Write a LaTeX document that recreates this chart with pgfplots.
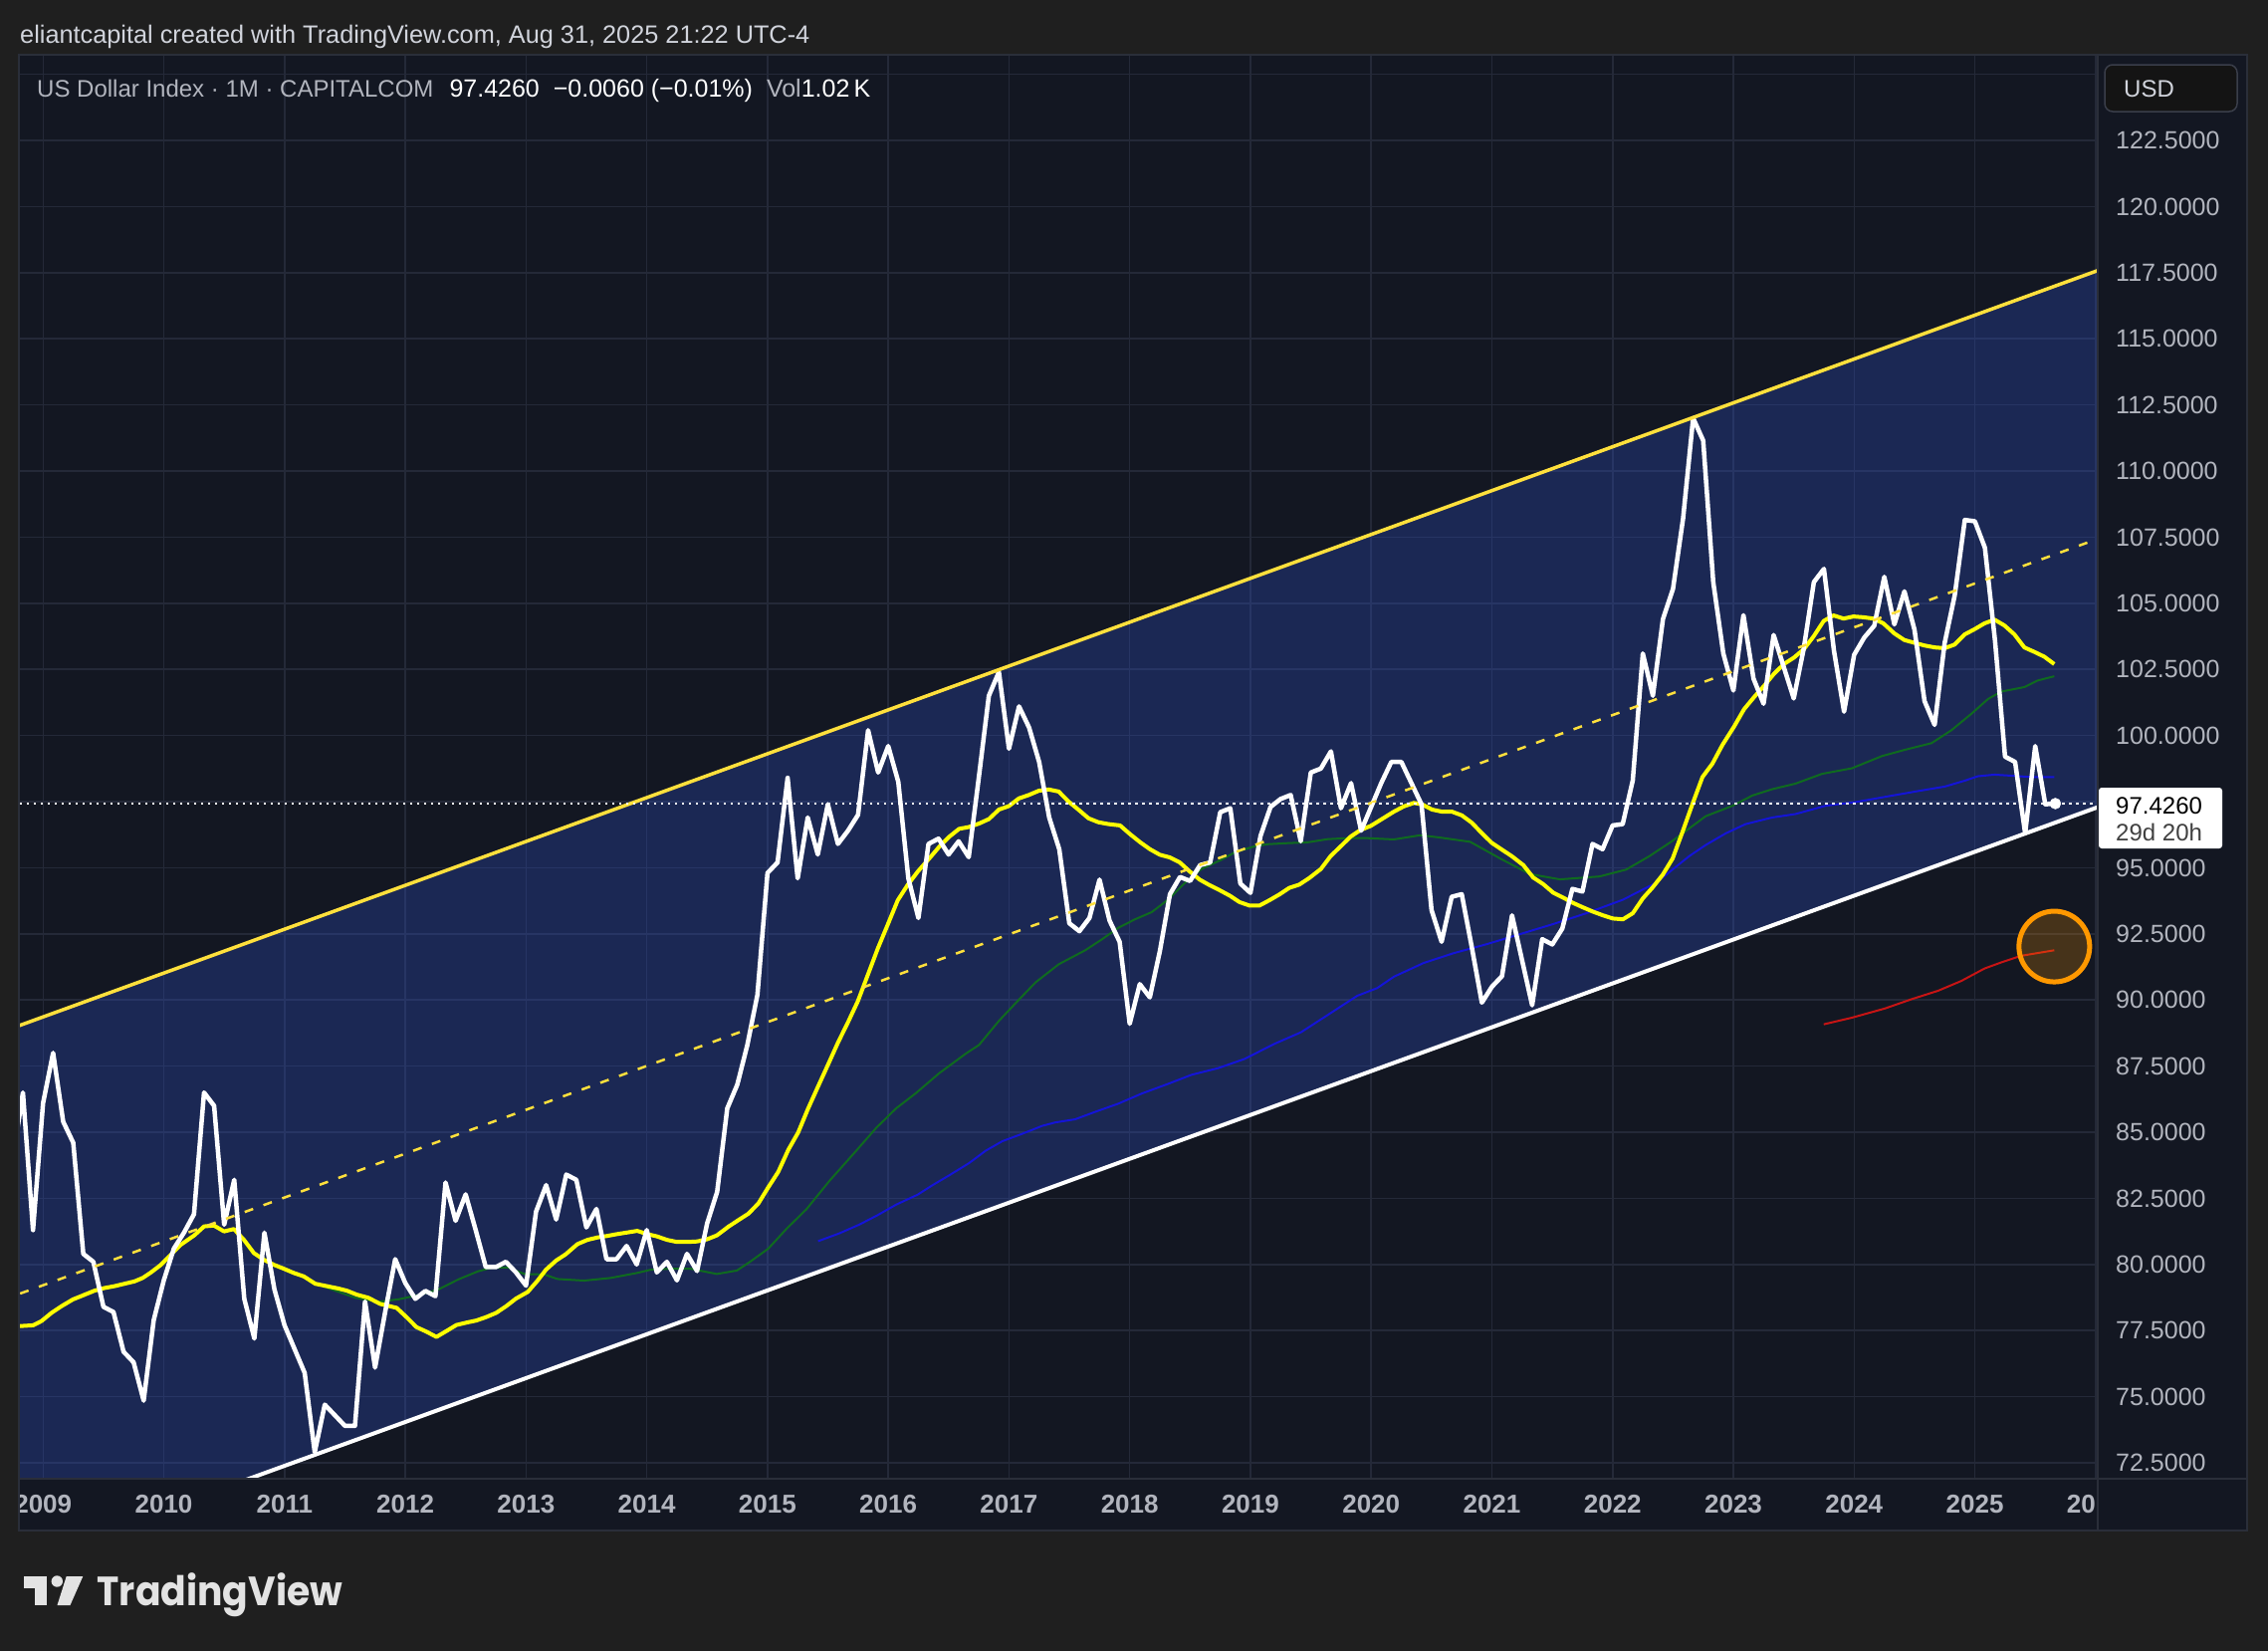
\documentclass[border=0pt]{standalone}
\usepackage{fontspec}
\setmainfont{Liberation Sans}
\newfontfamily\tvfont{Poppins}
\usepackage{pgfplots}
\pgfplotsset{compat=1.18}
\usepackage{pgfplotstable}

\definecolor{outerbg}{HTML}{1F1F1F}
\definecolor{panelbg}{HTML}{131722}
\definecolor{sepc}{HTML}{2A2E39}
\definecolor{boxbd}{HTML}{3A3E4A}
\definecolor{gridc}{HTML}{242938}
\definecolor{tickc}{HTML}{B2B5BE}
\definecolor{hdr}{HTML}{D1D4DC}
\definecolor{chanfill}{RGB}{51,91,234}
\definecolor{chanyel}{HTML}{FFE03C}
\definecolor{mayel}{HTML}{FFFF00}
\definecolor{magreen}{HTML}{0F6B1F}
\definecolor{mablue}{HTML}{1414D8}
\definecolor{mared}{HTML}{C81414}
\definecolor{circor}{HTML}{FF9800}
\definecolor{logoc}{HTML}{E3E3E3}

\pgfplotstableread{
t v
2008.7500 84.0
2008.8333 86.5
2008.9167 81.3
2009.0000 86.1
2009.0833 88.0
2009.1667 85.4
2009.2500 84.6
2009.3333 80.4
2009.4167 80.1
2009.5000 78.4
2009.5833 78.2
2009.6667 76.7
2009.7500 76.3
2009.8333 74.85
2009.9167 77.9
2010.0000 79.4
2010.0833 80.6
2010.1667 81.2
2010.2500 81.9
2010.3333 86.5
2010.4167 86.0
2010.5000 81.5
2010.5833 83.2
2010.6667 78.7
2010.7500 77.2
2010.8333 81.2
2010.9167 79.05
2011.0000 77.7
2011.0833 76.8
2011.1667 75.9
2011.2500 72.9
2011.3333 74.7
2011.4167 74.3
2011.5000 73.9
2011.5833 73.9
2011.6667 78.6
2011.7500 76.1
2011.8333 78.2
2011.9167 80.2
2012.0000 79.3
2012.0833 78.7
2012.1667 79.0
2012.2500 78.8
2012.3333 83.1
2012.4167 81.65
2012.5000 82.65
2012.5833 81.3
2012.6667 79.9
2012.7500 79.9
2012.8333 80.1
2012.9167 79.7
2013.0000 79.2
2013.0833 82.0
2013.1667 83.0
2013.2500 81.7
2013.3333 83.4
2013.4167 83.2
2013.5000 81.4
2013.5833 82.1
2013.6667 80.2
2013.7500 80.2
2013.8333 80.7
2013.9167 80.0
2014.0000 81.3
2014.0833 79.7
2014.1667 80.1
2014.2500 79.4
2014.3333 80.4
2014.4167 79.75
2014.5000 81.55
2014.5833 82.75
2014.6667 85.9
2014.7500 86.8
2014.8333 88.3
2014.9167 90.2
2015.0000 94.8
2015.0833 95.2
2015.1667 98.4
2015.2500 94.6
2015.3333 96.9
2015.4167 95.5
2015.5000 97.4
2015.5833 95.9
2015.6667 96.4
2015.7500 97.0
2015.8333 100.2
2015.9167 98.6
2016.0000 99.6
2016.0833 98.25
2016.1667 94.6
2016.2500 93.1
2016.3333 95.9
2016.4167 96.1
2016.5000 95.5
2016.5833 96.0
2016.6667 95.4
2016.7500 98.4
2016.8333 101.5
2016.9167 102.4
2017.0000 99.5
2017.0833 101.1
2017.1667 100.3
2017.2500 99.0
2017.3333 96.9
2017.4167 95.7
2017.5000 92.9
2017.5833 92.6
2017.6667 93.1
2017.7500 94.55
2017.8333 93.0
2017.9167 92.2
2018.0000 89.1
2018.0833 90.6
2018.1667 90.1
2018.2500 91.85
2018.3333 94.0
2018.4167 94.65
2018.5000 94.5
2018.5833 95.1
2018.6667 95.2
2018.7500 97.1
2018.8333 97.25
2018.9167 94.4
2019.0000 94.05
2019.0833 96.2
2019.1667 97.3
2019.2500 97.6
2019.3333 97.75
2019.4167 96.0
2019.5000 98.6
2019.5833 98.75
2019.6667 99.4
2019.7500 97.25
2019.8333 98.2
2019.9167 96.4
2020.0000 97.3
2020.0833 98.2
2020.1667 99.0
2020.2500 99.0
2020.3333 98.2
2020.4167 97.4
2020.5000 93.4
2020.5833 92.2
2020.6667 93.9
2020.7500 94.0
2020.8333 92.0
2020.9167 89.9
2021.0000 90.5
2021.0833 90.9
2021.1667 93.2
2021.2500 91.5
2021.3333 89.8
2021.4167 92.3
2021.5000 92.1
2021.5833 92.7
2021.6667 94.2
2021.7500 94.1
2021.8333 95.9
2021.9167 95.7
2022.0000 96.6
2022.0833 96.65
2022.1667 98.3
2022.2500 103.1
2022.3333 101.5
2022.4167 104.4
2022.5000 105.55
2022.5833 108.2
2022.6667 112.0
2022.7500 111.15
2022.8333 105.8
2022.9167 103.1
2023.0000 101.7
2023.0833 104.55
2023.1667 102.15
2023.2500 101.2
2023.3333 103.8
2023.4167 102.6
2023.5000 101.4
2023.5833 103.3
2023.6667 105.8
2023.7500 106.3
2023.8333 103.2
2023.9167 100.9
2024.0000 103.05
2024.0833 103.7
2024.1667 104.15
2024.2500 106.0
2024.3333 104.2
2024.4167 105.45
2024.5000 104.0
2024.5833 101.3
2024.6667 100.4
2024.7500 103.5
2024.8333 105.3
2024.9167 108.15
2025.0000 108.1
2025.0833 107.1
2025.1667 103.6
2025.2500 99.2
2025.3333 99.0
2025.4167 96.3
2025.5000 99.6
2025.5833 97.4
2025.6667 97.426
}\dxy

\pgfplotstableread{
t v
2008.808 77.67
2008.918 77.70
2008.987 77.86
2009.070 78.17
2009.152 78.42
2009.248 78.68
2009.330 78.83
2009.427 79.01
2009.509 79.11
2009.592 79.18
2009.674 79.27
2009.757 79.36
2009.825 79.49
2009.894 79.70
2009.977 79.99
2010.059 80.37
2010.142 80.75
2010.252 81.10
2010.334 81.44
2010.416 81.47
2010.499 81.25
2010.581 81.34
2010.664 80.93
2010.746 80.43
2010.829 80.18
2010.911 79.99
2010.994 79.84
2011.076 79.68
2011.159 79.55
2011.255 79.27
2011.351 79.18
2011.447 79.09
2011.516 79.01
2011.598 78.86
2011.695 78.74
2011.791 78.51
2011.928 78.36
2012.010 78.01
2012.093 77.63
2012.175 77.46
2012.258 77.26
2012.340 77.48
2012.423 77.71
2012.505 77.80
2012.588 77.88
2012.670 78.01
2012.753 78.17
2012.835 78.42
2012.917 78.71
2013.014 78.96
2013.096 79.39
2013.165 79.80
2013.247 80.14
2013.330 80.39
2013.426 80.77
2013.509 80.93
2013.591 81.02
2013.674 81.08
2013.756 81.15
2013.839 81.21
2013.921 81.27
2014.004 81.15
2014.086 81.06
2014.168 80.93
2014.251 80.85
2014.333 80.85
2014.416 80.87
2014.498 80.95
2014.581 81.10
2014.677 81.43
2014.760 81.68
2014.842 81.92
2014.925 82.31
2015.007 82.92
2015.089 83.50
2015.172 84.33
2015.254 84.99
2015.337 85.90
2015.419 86.73
2015.502 87.56
2015.584 88.39
2015.667 89.16
2015.749 89.96
2015.832 90.96
2015.914 91.95
2015.997 92.86
2016.079 93.77
2016.161 94.35
2016.244 94.85
2016.340 95.35
2016.422 95.79
2016.505 96.17
2016.587 96.47
2016.669 96.54
2016.752 96.67
2016.834 96.84
2016.917 97.20
2016.999 97.33
2017.082 97.62
2017.164 97.75
2017.247 97.91
2017.329 97.96
2017.412 97.88
2017.494 97.50
2017.577 97.19
2017.659 96.87
2017.741 96.72
2017.824 96.65
2017.920 96.60
2018.003 96.27
2018.085 95.97
2018.168 95.70
2018.250 95.49
2018.333 95.39
2018.415 95.20
2018.497 94.86
2018.580 94.55
2018.662 94.34
2018.745 94.15
2018.827 93.95
2018.910 93.70
2018.992 93.57
2019.075 93.57
2019.157 93.77
2019.240 93.99
2019.322 94.24
2019.404 94.36
2019.487 94.61
2019.583 94.95
2019.666 95.45
2019.748 95.81
2019.831 96.18
2019.913 96.43
2019.996 96.58
2020.078 96.81
2020.188 97.12
2020.271 97.32
2020.353 97.45
2020.421 97.40
2020.504 97.20
2020.586 97.12
2020.669 97.12
2020.751 96.98
2020.834 96.70
2020.916 96.31
2020.999 95.94
2021.081 95.69
2021.164 95.44
2021.260 95.10
2021.342 94.63
2021.425 94.38
2021.507 94.06
2021.590 93.87
2021.672 93.67
2021.755 93.50
2021.837 93.34
2021.920 93.20
2022.002 93.08
2022.085 93.05
2022.167 93.28
2022.250 93.84
2022.332 94.26
2022.414 94.73
2022.497 95.35
2022.579 96.36
2022.662 97.42
2022.744 98.43
2022.827 98.94
2022.909 99.64
2023.006 100.34
2023.088 100.99
2023.171 101.45
2023.253 101.87
2023.336 102.33
2023.418 102.70
2023.500 102.94
2023.583 103.26
2023.665 103.75
2023.748 104.33
2023.830 104.54
2023.913 104.42
2023.995 104.50
2024.078 104.47
2024.160 104.42
2024.242 104.24
2024.333 103.86
2024.416 103.61
2024.503 103.50
2024.586 103.40
2024.668 103.33
2024.751 103.30
2024.833 103.44
2024.915 103.82
2024.998 104.02
2025.080 104.24
2025.163 104.38
2025.245 104.16
2025.328 103.82
2025.410 103.33
2025.493 103.16
2025.575 102.98
2025.658 102.70
}\mayellow

\pgfplotstableread{
t v
2011.239 79.30
2011.587 78.74
2011.777 78.59
2011.942 78.68
2012.107 78.84
2012.272 79.05
2012.437 79.43
2012.602 79.74
2012.711 79.87
2012.849 79.89
2012.987 79.64
2013.152 79.62
2013.261 79.45
2013.481 79.39
2013.701 79.49
2013.921 79.68
2014.031 79.80
2014.196 79.84
2014.361 79.84
2014.581 79.64
2014.746 79.77
2014.855 80.10
2015.007 80.60
2015.158 81.35
2015.323 82.09
2015.515 83.17
2015.708 84.16
2015.900 85.16
2016.065 85.90
2016.230 86.48
2016.422 87.23
2016.642 87.97
2016.752 88.30
2016.917 89.21
2017.055 89.88
2017.219 90.66
2017.412 91.35
2017.632 91.88
2017.769 92.29
2017.906 92.73
2018.044 93.05
2018.182 93.32
2018.319 93.80
2018.456 94.42
2018.594 94.95
2018.759 95.30
2018.869 95.58
2019.034 95.81
2019.143 95.89
2019.308 95.93
2019.473 95.96
2019.638 96.08
2019.803 96.12
2019.968 96.12
2020.188 96.07
2020.408 96.23
2020.573 96.14
2020.820 95.98
2021.068 95.35
2021.315 94.76
2021.563 94.56
2021.892 94.67
2022.112 94.93
2022.305 95.44
2022.497 96.02
2022.662 96.58
2022.771 96.95
2022.992 97.34
2023.157 97.73
2023.322 97.97
2023.514 98.18
2023.734 98.55
2023.981 98.76
2024.229 99.22
2024.421 99.46
2024.641 99.71
2024.806 100.20
2024.971 100.82
2025.109 101.38
2025.218 101.66
2025.410 101.83
2025.521 102.08
2025.658 102.24
}\magreentab

\pgfplotstableread{
t v
2015.419 80.88
2015.597 81.18
2015.762 81.51
2015.914 81.87
2016.065 82.26
2016.244 82.64
2016.368 83.00
2016.505 83.37
2016.669 83.83
2016.807 84.30
2016.945 84.66
2017.110 84.94
2017.275 85.24
2017.384 85.37
2017.549 85.49
2017.714 85.77
2017.906 86.08
2018.099 86.46
2018.319 86.83
2018.512 87.17
2018.731 87.42
2018.951 87.77
2019.198 88.34
2019.419 88.78
2019.693 89.59
2019.885 90.16
2020.050 90.45
2020.188 90.88
2020.435 91.40
2020.683 91.77
2020.957 92.11
2021.233 92.49
2021.507 92.87
2021.782 93.28
2022.085 93.79
2022.359 94.43
2022.635 95.44
2022.771 95.86
2022.937 96.30
2023.101 96.65
2023.322 96.90
2023.514 97.03
2023.761 97.34
2024.009 97.48
2024.256 97.68
2024.531 97.90
2024.751 98.07
2024.915 98.29
2025.026 98.46
2025.163 98.52
2025.301 98.48
2025.466 98.43
2025.658 98.43
}\mabluetab

\pgfplotstableread{
t v
2023.748 89.08
2023.981 89.33
2024.256 89.68
2024.476 90.03
2024.696 90.35
2024.888 90.72
2025.080 91.19
2025.218 91.42
2025.383 91.67
2025.658 91.88
}\maredtab

\begin{document}
\begin{tikzpicture}
\begin{scope}[x=1pt,y=1pt]
\useasboundingbox (0,0) rectangle (2278,-1658);
\fill[outerbg] (0,0) rectangle (2278,-1658);
\fill[panelbg] (19,-55) rectangle (2257,-1537);
\end{scope}

\begin{axis}[
  at={(19pt,-55pt)}, anchor=north west,
  width=2088pt, height=1430pt, scale only axis,
  xmin=2008.80, xmax=2026.018, ymin=71.898, ymax=125.738,
  axis background/.style={fill=panelbg},
  axis line style={draw=none},
  major tick length=0pt,
  tick style={draw=none},
  xtick={2009,2010,2011,2012,2013,2014,2015,2016,2017,2018,2019,2020,2021,2022,2023,2024,2025,2026},
  xticklabels={2009,2010,2011,2012,2013,2014,2015,2016,2017,2018,2019,2020,2021,2022,2023,2024,2025,{20\phantom{26}}},
  ytick={72.5,75,77.5,80,82.5,85,87.5,90,92.5,95,97.5,100,102.5,105,107.5,110,112.5,115,117.5,120,122.5},
  yticklabels={72.5000,75.0000,77.5000,80.0000,82.5000,85.0000,87.5000,90.0000,92.5000,95.0000,97.5000,100.0000,102.5000,105.0000,107.5000,110.0000,112.5000,115.0000,117.5000,120.0000,122.5000},
  extra y ticks={125}, extra y tick labels={},
  extra y tick style={grid=major},
  yticklabel pos=right,
  grid=major,
  major grid style={draw=gridc, line width=1.5pt},
  xticklabel style={anchor=center, yshift=-26pt, inner sep=0pt, text=tickc, font=\fontsize{26}{26}\selectfont\bfseries},
  yticklabel style={anchor=west, xshift=18pt, inner sep=0pt, text=tickc, font=\fontsize{25}{25}\selectfont},
  clip=true,
]
% channel fill
\addplot[draw=none, fill=chanfill, fill opacity=0.25] coordinates {(2008.5,88.53) (2026.5,118.38) (2026.5,98.09) (2008.5,68.24)} -- cycle;
% moving averages
\addplot[mared, line width=2pt, line join=round] table[x=t,y=v] {\maredtab};
\addplot[mablue, line width=2pt, line join=round] table[x=t,y=v] {\mabluetab};
\addplot[magreen, line width=2pt, line join=round] table[x=t,y=v] {\magreentab};
\addplot[mayel, line width=4pt, line join=round] table[x=t,y=v] {\mayellow};
% price
\addplot[white, line width=4.5pt, line join=round] table[x=t,y=v] {\dxy};
% channel lines
\addplot[chanyel, line width=3.5pt] coordinates {(2008.5,88.53) (2026.5,118.38)};
\addplot[white, line width=4pt] coordinates {(2008.5,68.24) (2026.5,98.09)};
\addplot[chanyel, line width=2.5pt, dash pattern=on 9pt off 11pt] coordinates {(2008.5,78.385) (2026.5,108.235)};
% last price line
\addplot[white, line width=2.5pt, dash pattern=on 2.5pt off 4.5pt] coordinates {(2008,97.426) (2027,97.426)};
% highlight circle
\addplot[only marks, mark=*, mark size=35.5pt, mark options={draw=circor, fill=circor, fill opacity=0.22, draw opacity=1, line width=5pt}] coordinates {(2025.658,92.02)};
% last point dot
\addplot[only marks, mark=*, mark size=5.5pt, mark options={draw=white, fill=white}] coordinates {(2025.6667,97.426)};
\end{axis}

\begin{scope}[x=1pt,y=1pt]
% pane separators
\draw[sepc, line width=2pt] (19,-1485) -- (2257,-1485);
\draw[sepc, line width=2pt] (2107,-55) -- (2107,-1537);
\draw[sepc, line width=2pt] (19,-55) rectangle (2257,-1537);
\fill[outerbg] (0,-1486) rectangle (18,-1540);
% currency box
\draw[draw=boxbd, fill=black!92, rounded corners=8pt, line width=1.5pt] (2114,-65) rectangle (2247,-112);
\node[anchor=base west, inner sep=0pt, text=hdr, font=\fontsize{24}{24}\selectfont] at (2133,-97) {USD};
% last price label
\fill[white, rounded corners=3pt] (2108,-791) rectangle (2232,-852);
\node[anchor=base west, inner sep=0pt, text=black, font=\fontsize{24}{24}\selectfont] at (2125,-817) {97.4260};
\node[anchor=base west, inner sep=0pt, text=black!75, font=\fontsize{24}{24}\selectfont] at (2125,-844) {29d 20h};
% header texts
\node[anchor=base west, inner sep=0pt, text=hdr, font=\fontsize{25.3}{25.3}\selectfont] at (20,-43) {eliantcapital created with TradingView.com, Aug 31, 2025 21:22 UTC-4};
\node[anchor=base west, inner sep=0pt, font=\fontsize{24}{24}\selectfont] at (37,-97) {\textcolor{tickc}{US Dollar Index · 1M · CAPITALCOM}\hspace{16pt}{\fontsize{25}{25}\selectfont\textcolor{white}{97.4260}\hspace{14pt}\textcolor{white}{−0.0060 (−0.01\%)}\hspace{14pt}\textcolor{tickc}{Vol}\textcolor{white}{1.02\,K}}};
% TradingView logo
\fill[logoc] (24,-1583) rectangle (47,-1595);
\fill[logoc] (35,-1583) rectangle (47,-1612);
\fill[logoc] (57.3,-1588) circle (5.7);
\fill[logoc] (66.7,-1583) -- (83.3,-1583) -- (70.5,-1612) -- (57.5,-1612) -- cycle;
\node[anchor=base west, inner sep=0pt, text=logoc, font=\tvfont\bfseries\fontsize{41}{41}\selectfont] at (97.5,-1612) {\scalebox{0.92}[1]{TradingView}};
\end{scope}
\end{tikzpicture}
\end{document}
